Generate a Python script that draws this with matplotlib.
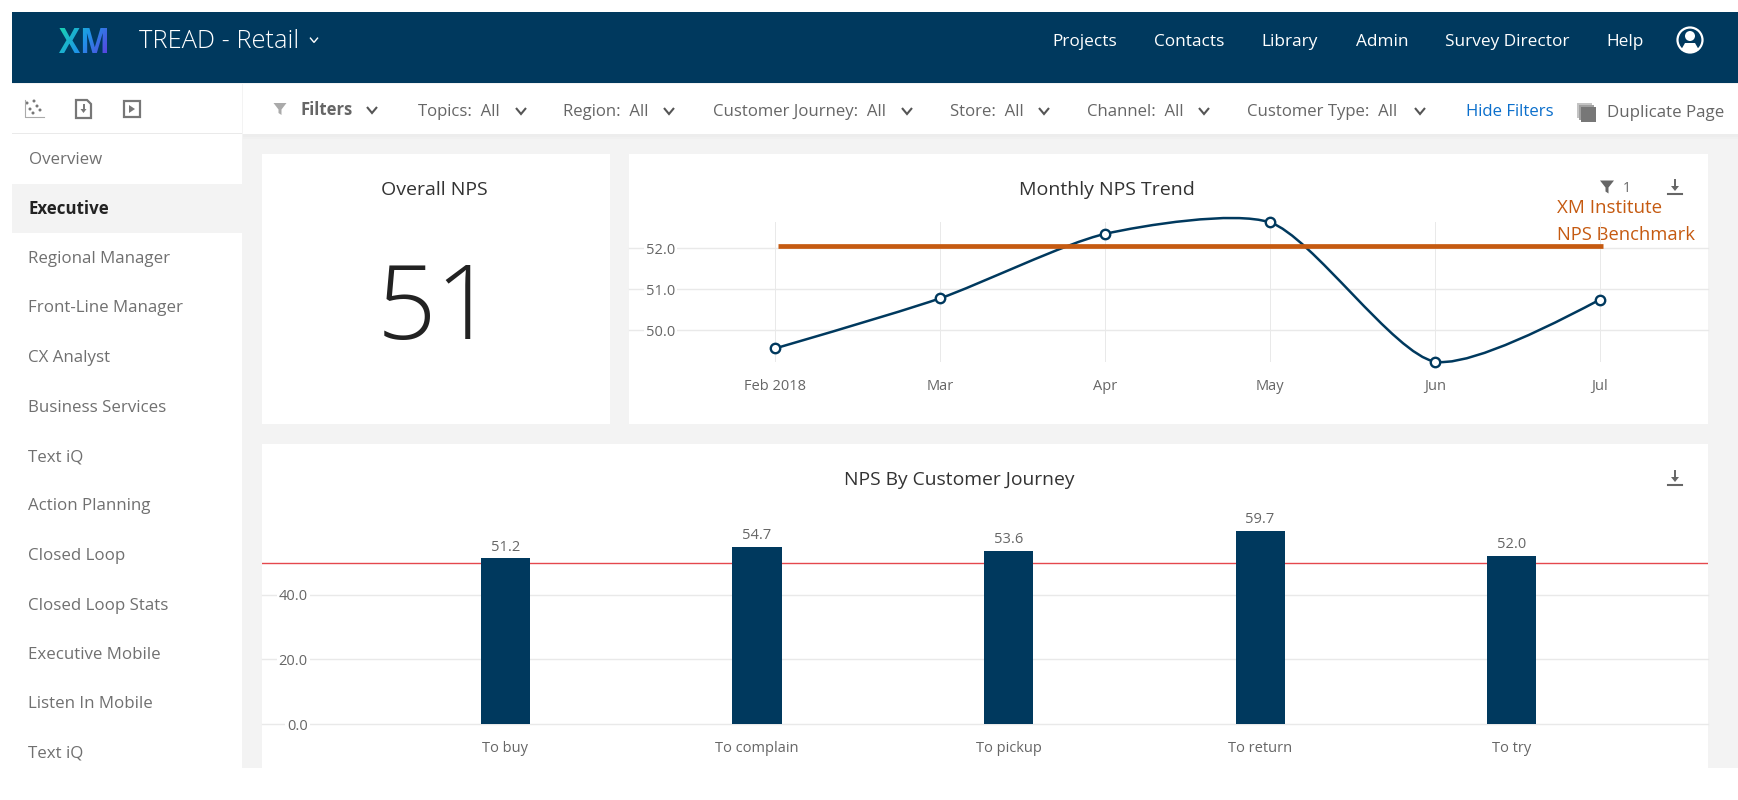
import numpy as np
import matplotlib
matplotlib.use('Agg')
import matplotlib.pyplot as plt
from matplotlib.patches import Rectangle, Circle, PathPatch, Polygon
from matplotlib.path import Path
from matplotlib.textpath import TextPath
from matplotlib.font_manager import FontProperties
from matplotlib.transforms import Affine2D

plt.rcParams['font.family'] = ['Open Sans', 'DejaVu Sans']

# data
months = ['Feb 2018', 'Mar', 'Apr', 'May', 'Jun', 'Jul']
monthly_nps = [49.56, 50.78, 52.35, 52.63, 49.24, 50.75]
monthly_ticks = [50.0, 51.0, 52.0]
benchmark = 52.06
benchmark_span = [0.02, 5.02]

journeys = ['To buy', 'To complain', 'To pickup', 'To return', 'To try']
journey_nps = [51.2, 54.7, 53.6, 59.7, 52.0]
journey_ticks = [0.0, 20.0, 40.0]
journey_line = 49.8
overall_label = '51'

nav_items = ['Projects', 'Contacts', 'Library', 'Admin', 'Survey Director', 'Help']
nav_left = [1052, 1154, 1261, 1356, 1445, 1606]
pages = ['Overview', 'Executive', 'Regional Manager', 'Front-Line Manager', 'CX Analyst',
         'Business Services', 'Text iQ', 'Action Planning', 'Closed Loop',
         'Closed Loop Stats', 'Executive Mobile', 'Listen In Mobile', 'Text iQ']
filters = ['Topics:  All', 'Region:  All', 'Customer Journey:  All', 'Store:  All',
           'Channel:  All', 'Customer Type:  All']
filter_left = [418, 563, 713, 950, 1087, 1247]
filter_chevron = [521, 669, 907, 1044, 1204, 1420]

NAVY = '#00395E'
BG = '#F3F3F3'
GRID = '#E9E9E9'
ORANGE = '#C55A11'
W, H = 1738, 800


def chevron(ax, x, y, color, size=5, lw=1.5):
    ax.plot([x - size, x, x + size], [y - size * 0.6, y + size * 0.6, y - size * 0.6],
            color=color, lw=lw, solid_capstyle='butt', solid_joinstyle='miter')


def funnel(ax, x, y, w, h, color):
    ax.add_patch(Polygon([[x - w / 2, y - h / 2], [x + w / 2, y - h / 2], [x + 1.5, y + 0.5],
                          [x + 1.5, y + h / 2], [x - 1.5, y + h / 2 - 2], [x - 1.5, y + 0.5]],
                         fc=color, ec='none'))


def download(ax, x, y, color='#666666'):
    ax.plot([x, x], [y - 7, y + 1], color=color, lw=1.4)
    ax.add_patch(Polygon([[x - 4, y - 1], [x + 4, y - 1], [x, y + 4]], fc=color, ec='none'))
    ax.plot([x - 7, x + 7], [y + 7, y + 7], color=color, lw=1.5)


def spline_path(ax, xs, ys, smoothing=0.7):
    # same smoothing as a plotly spline, worked out in pixels
    pts = ax.transData.transform(np.column_stack([xs, ys]))
    first, second = [], []
    for i in range(1, len(pts) - 1):
        d1 = pts[i - 1] - pts[i]
        d2 = pts[i + 1] - pts[i]
        a1 = np.hypot(*d1) ** 0.5
        a2 = np.hypot(*d2) ** 0.5
        num = (a2 * a2 * d1 - a1 * a1 * d2) * smoothing
        first.append(pts[i] + num / (3 * a2 * (a1 + a2)))
        second.append(pts[i] - num / (3 * a1 * (a1 + a2)))
    verts = [pts[0], first[0], pts[1]]
    codes = [Path.MOVETO, Path.CURVE3, Path.CURVE3]
    for i in range(1, len(pts) - 2):
        verts += [second[i - 1], first[i], pts[i + 1]]
        codes += [Path.CURVE4] * 3
    verts += [second[-1], pts[-1]]
    codes += [Path.CURVE3, Path.CURVE3]
    return Path(ax.transData.inverted().transform(np.array(verts)), codes)


fig = plt.figure(figsize=(W / 100, H / 100), dpi=100)
bg = fig.add_axes([0, 0, 1, 1])
bg.set_xlim(0, W)
bg.set_ylim(H, 0)
bg.axis('off')


def box(x0, y0, x1, y1, color, **kw):
    bg.add_patch(Rectangle((x0, y0), x1 - x0, y1 - y0, fc=color, ec='none', **kw))


def label(x, y, s, size=12.1, color='#666666', ha='left', **kw):
    return bg.text(x, y, s, fontsize=size, color=color, ha=ha, va='center', **kw)


# page frame
box(12, 12, W, 768, BG)
box(12, 12, W, 83, NAVY)
box(12, 84, 242, 768, 'white')
box(243, 84, W, 134, 'white')
box(243, 134, W, 137, '#EDEDED')
box(243, 137, W, 139, '#F0F0F0')
box(12, 133, 242, 134, '#EAEAEA')
box(262, 154, 610, 424, 'white')
box(629, 154, 1708, 424, 'white')
box(262, 444, 1708, 768, 'white')

# logo with the gradient clipped to the letters
grad = np.linspace(0, 1, 128)[None, :] + np.linspace(0, 0.35, 128)[:, None]
cmap = matplotlib.colors.LinearSegmentedColormap.from_list('xm', ['#19D3B0', '#1E96E8', '#5B3FE0'])
img = bg.imshow(grad, extent=(59, 108, 54, 28), cmap=cmap, aspect='auto', zorder=2)
tp = TextPath((0, 0), 'XM', size=33, prop=FontProperties(family='Open Sans', weight='bold'))
bb = tp.get_extents()
logo_tf = Affine2D().translate(-bb.x0, -bb.y0).scale(48 / bb.width, -25 / bb.height).translate(59, 53)
img.set_clip_path(PathPatch(tp, transform=logo_tf + bg.transData))
bg.set_xlim(0, W)
bg.set_ylim(H, 0)

# top bar
label(139, 41, 'TREAD - Retail', size=18.4, color='white', fontweight='light')
chevron(bg, 314, 40, 'white', size=4, lw=1)
for name, x in zip(nav_items, nav_left):
    label(x, 41.5, name, size=12.4, color='white', fontweight='medium')
bg.add_patch(Circle((1690, 40), 12.5, fc=NAVY, ec='white', lw=1.6))
bg.add_patch(Circle((1690, 36), 5, fc='white', ec='none'))
bg.add_patch(Polygon([[1681, 50], [1685, 43], [1695, 43], [1699, 50], [1690, 53]], fc='white', ec='none'))

# sidebar
GREY = '#777777'
for xy in [(27, 103), (34, 101), (30, 109), (37, 106), (40, 110), (33, 113)]:
    bg.add_patch(Circle(xy, 1.5, fc=GREY, ec='none'))
bg.plot([25, 25, 44], [100, 117, 117], color='#AAAAAA', lw=0.8)
bg.add_patch(Polygon([[76, 100], [87, 100], [91, 104], [91, 118], [76, 118]], fc='white', ec=GREY, lw=1.6))
bg.plot([83.5, 83.5], [105, 110], color=GREY, lw=1.4)
bg.add_patch(Polygon([[80.5, 109], [86.5, 109], [83.5, 113]], fc=GREY, ec='none'))
bg.add_patch(Rectangle((124, 101), 16, 16, fc='white', ec=GREY, lw=1.6))
bg.add_patch(Polygon([[129, 105], [129, 113], [135, 109]], fc=GREY, ec='none'))

box(12, 184, 242, 233, BG)
for i, page in enumerate(pages):
    active = page == 'Executive'
    label(28.5, 160 + i * 49.5, page, size=12.2,
          color='#222222' if active else '#707070', fontweight='bold' if active else 'normal')

# filter bar
funnel(bg, 280, 109, 13, 12, '#AAAAAA')
label(301, 110, 'Filters', size=12, color='#666666', fontweight='bold')
chevron(bg, 372, 110, '#555555', size=5)
for name, x, cx in zip(filters, filter_left, filter_chevron):
    label(x, 111.5, name)
    chevron(bg, cx, 111, '#555555', size=5)
label(1466, 111.5, 'Hide Filters', color='#0B6FCC')
for off, col in [(0, '#C4C4C4'), (2, '#A0A0A0'), (4, '#777777')]:
    box(1577 + off, 103 + off, 1592 + off, 118 + off, col, zorder=2 + off)
label(1607, 113, 'Duplicate Page', size=12.2)

# card titles and the big number
label(434, 190, 'Overall NPS', size=14, color='#333333', ha='center')
label(1107, 190, 'Monthly NPS Trend', size=14, color='#333333', ha='center')
label(959, 480, 'NPS By Customer Journey', size=13.9, color='#333333', ha='center')
label(436, 312, overall_label, size=75, color='#222222', ha='center', fontweight='light')
funnel(bg, 1607, 187, 14, 13, '#666666')
label(1623, 189, '1', size=10, color='#666666')
download(bg, 1675, 187)
download(bg, 1675, 478)
label(1557, 208, 'XM Institute', size=13.5, color=ORANGE, fontweight='medium')
label(1557, 234.5, 'NPS Benchmark', size=13.2, color=ORANGE, fontweight='medium')


def chart_axes(x0, y0, x1, y1):
    ax = fig.add_axes([x0 / W, 1 - y1 / H, (x1 - x0) / W, (y1 - y0) / H])
    ax.patch.set_visible(False)
    for s in ax.spines.values():
        s.set_visible(False)
    ax.set_axisbelow(True)
    ax.tick_params(length=0, labelcolor='#666666', labelsize=10.5)
    return ax


# monthly trend
ax1 = chart_axes(629, 222, 1708, 362)
ax1.set_xlim(-0.885, 5.655)
ax1.set_ylim(49.23, 52.64)
ax1.set_xticks(range(len(months)), months)
ax1.set_yticks(monthly_ticks, ['%.1f' % v for v in monthly_ticks])
ax1.tick_params(axis='x', pad=12)
ax1.tick_params(axis='y', pad=-33)
ax1.grid(True, axis='y', color=GRID, lw=1)
ax1.grid(True, axis='x', color=GRID, lw=0.7)
xs = np.arange(len(months))
ax1.add_patch(PathPatch(spline_path(ax1, xs, monthly_nps), fc='none', ec=NAVY, lw=1.8, clip_on=False, zorder=3))
ax1.plot(benchmark_span, [benchmark, benchmark], color=ORANGE, lw=3.4, solid_capstyle='butt', zorder=4)
ax1.plot(xs, monthly_nps, ls='none', marker='o', ms=6.8, mfc='white', mec=NAVY, mew=1.7, clip_on=False, zorder=5)

# customer journey bars
ax2 = chart_axes(262, 490, 1708, 724)
ax2.set_xlim(-0.968, 4.781)
ax2.set_ylim(0, 72.3)
ax2.set_xticks(range(len(journeys)), journeys)
ax2.set_yticks(journey_ticks, ['%.1f' % v for v in journey_ticks])
ax2.tick_params(axis='x', pad=12.5)
ax2.tick_params(axis='y', pad=-33)
ax2.grid(True, axis='y', color=GRID, lw=1)
ax2.axhline(journey_line, color='#E5484D', lw=1, zorder=1)
bars = ax2.bar(range(len(journeys)), journey_nps, width=0.195, color=NAVY, zorder=2)
ax2.bar_label(bars, labels=['%.1f' % v for v in journey_nps], padding=2.5, fontsize=10.5, color='#666666')

for ax in (ax1, ax2):
    for t in ax.get_yticklabels():
        t.set_bbox(dict(fc='white', ec='none', pad=1.5))
    for g in ax.get_ygridlines():
        g.set_clip_on(False)

fig.savefig('out.png', dpi=100)
